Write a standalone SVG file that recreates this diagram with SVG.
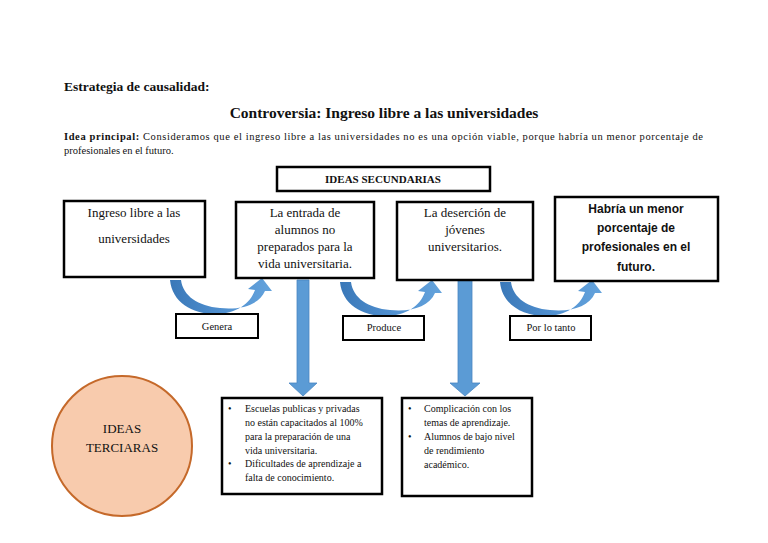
<svg xmlns="http://www.w3.org/2000/svg" width="768" height="543" viewBox="0 0 768 543">
<defs>
<style>
.box{fill:#fff;stroke:#000;stroke-width:2.5}
.lbl{fill:#fff;stroke:#000;stroke-width:2}
.serif{font-family:"Liberation Serif","Times New Roman",serif;fill:#111}
.sans{font-family:"Liberation Sans",Arial,sans-serif;fill:#111;font-weight:bold}
.ctr{text-anchor:middle}
.down{fill:#5b9bd5;stroke:#4a86c2;stroke-width:0.8}
</style>
<linearGradient id="cg" x1="0" y1="0" x2="1" y2="0">
<stop offset="0" stop-color="#3a78b8"/>
<stop offset="0.5" stop-color="#4f8fcf"/>
<stop offset="1" stop-color="#64a3dc"/>
</linearGradient>
<path id="curve" d="M0,0 C2,22 22,34 45,34 C66,34 80,24 85,10 L78,9 L92,-2 L102,11 L95,11 C89,25 71,30 50,28 C28,26 13,16 11,0 Z" fill="url(#cg)"/>
</defs>

<text class="serif" x="64" y="91" font-size="13.5" font-weight="bold">Estrategia de causalidad:</text>
<text class="serif ctr" x="384" y="118" font-size="15.5" font-weight="bold">Controversia: Ingreso libre a las universidades</text>
<text class="serif" x="64" y="140" font-size="10.5" textLength="639" lengthAdjust="spacing"><tspan font-weight="bold">Idea principal:</tspan> Consideramos que el ingreso libre a las universidades no es una opción viable, porque habría un menor porcentaje de</text>
<text class="serif" x="64" y="154" font-size="10.5">profesionales en el futuro.</text>

<g id="connectors">
<use href="#curve" transform="translate(170,280)"/>
<use href="#curve" transform="translate(340,282)"/>
<use href="#curve" transform="translate(500,282)"/>
<path class="down" d="M297,280 H309 V383 H317 L303,396 L289,383 H297 Z"/>
<path class="down" d="M458,280 H472 V383 H480 L465,396 L450,383 H458 Z"/>
</g>

<g id="secundarias">
<rect class="box" x="277" y="167" width="213" height="24" stroke-width="2"/>
<text class="serif ctr" x="383" y="183" font-size="11" font-weight="bold">IDEAS SECUNDARIAS</text>
</g>

<g id="n1">
<rect class="box" x="64" y="201" width="141" height="76"/>
<text class="serif ctr" x="134" y="217" font-size="13">Ingreso libre a las</text>
<text class="serif ctr" x="134" y="243" font-size="13">universidades</text>
</g>

<g id="n2">
<rect class="box" x="236" y="202" width="138" height="76"/>
<text class="serif ctr" x="305" y="217" font-size="13">La entrada de</text>
<text class="serif ctr" x="305" y="234" font-size="13">alumnos no</text>
<text class="serif ctr" x="305" y="251" font-size="13">preparados para la</text>
<text class="serif ctr" x="305" y="268" font-size="13">vida universitaria.</text>
</g>

<g id="n3">
<rect class="box" x="397" y="202" width="136" height="78"/>
<text class="serif ctr" x="465" y="217" font-size="13">La deserción de</text>
<text class="serif ctr" x="465" y="234" font-size="13">jóvenes</text>
<text class="serif ctr" x="465" y="251" font-size="13">universitarios.</text>
</g>

<g id="n4">
<rect class="box" x="555" y="197" width="163" height="84"/>
<text class="sans ctr" x="636" y="213" font-size="12">Habría un menor</text>
<text class="sans ctr" x="636" y="232" font-size="12">porcentaje de</text>
<text class="sans ctr" x="636" y="251" font-size="12">profesionales en el</text>
<text class="sans ctr" x="636" y="271" font-size="12">futuro.</text>
</g>

<g id="l1">
<rect class="lbl" x="176" y="314" width="82" height="24"/>
<text class="serif ctr" x="217" y="330" font-size="10.5">Genera</text>
</g>
<g id="l2">
<rect class="lbl" x="343" y="316" width="81" height="24"/>
<text class="serif ctr" x="384" y="331" font-size="10.5">Produce</text>
</g>
<g id="l3">
<rect class="lbl" x="510" y="316" width="81" height="24"/>
<text class="serif ctr" x="551" y="331" font-size="10.5">Por lo tanto</text>
</g>

<g id="terciarias">
<circle cx="122" cy="446" r="70" fill="#f8cbad" stroke="#c5692a" stroke-width="2"/>
<text class="serif ctr" x="122" y="433" font-size="13">IDEAS</text>
<text class="serif ctr" x="122" y="452" font-size="13">TERCIARAS</text>
</g>

<g id="n5">
<rect class="box" x="222" y="398" width="160" height="96"/>
<g class="serif" font-size="10">
<text x="228" y="412">•</text>
<text x="245" y="412">Escuelas publicas y privadas</text>
<text x="245" y="426">no están capacitados al 100%</text>
<text x="245" y="440">para la preparación de una</text>
<text x="245" y="454">vida universitaria.</text>
<text x="228" y="467">•</text>
<text x="245" y="467">Dificultades de aprendizaje a</text>
<text x="245" y="481">falta de conocimiento.</text>
</g>
</g>

<g id="n6">
<rect class="box" x="402" y="398" width="130" height="98"/>
<g class="serif" font-size="10">
<text x="408" y="412">•</text>
<text x="424" y="412">Complicación con los</text>
<text x="424" y="426">temas de aprendizaje.</text>
<text x="408" y="440">•</text>
<text x="424" y="440">Alumnos de bajo nivel</text>
<text x="424" y="454">de rendimiento</text>
<text x="424" y="468">académico.</text>
</g>
</g>
</svg>
